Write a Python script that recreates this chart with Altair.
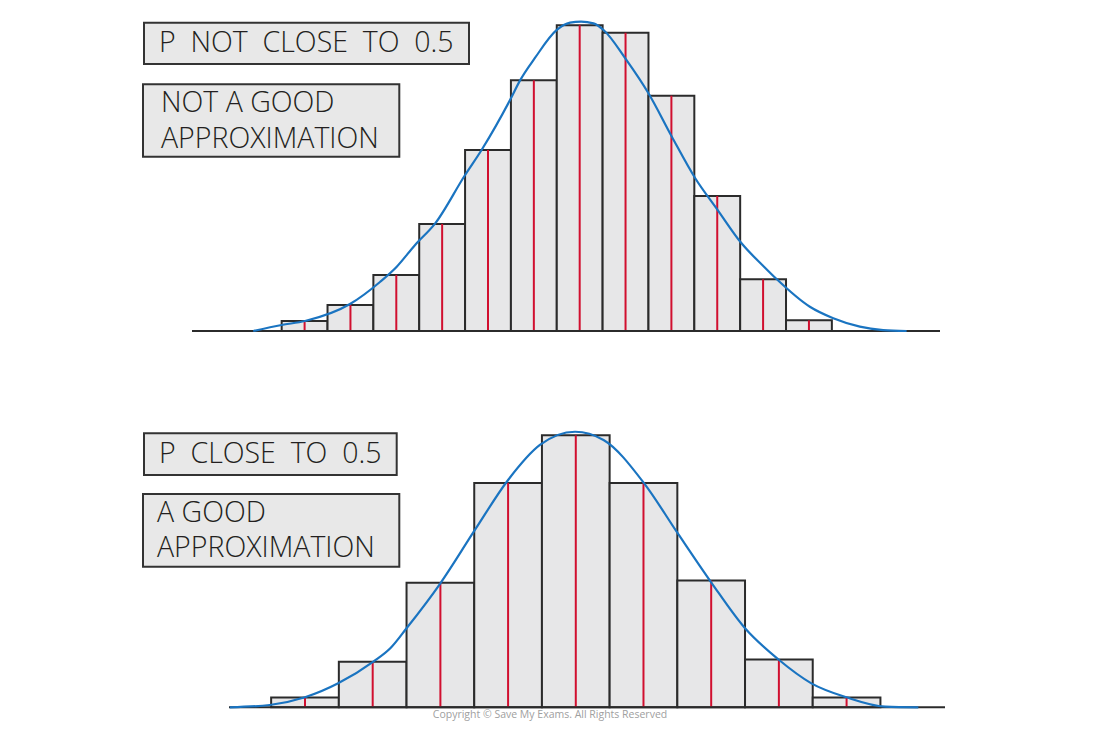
import altair as alt
import pandas as pd

# ---------------- data ----------------
# Top panel: p not close to 0.5 (12 bars)
TOP_K = list(range(12))
TOP_P = [0.0062, 0.0161, 0.0347, 0.0663, 0.1121, 0.1552,
         0.1893, 0.1847, 0.1457, 0.0836, 0.0320, 0.0066]
TOP_CURVE_K = [-1.12, -0.50, 0.01, 0.99, 1.65, 2.01, 2.41, 2.84, 3.50, 3.86,
               4.48, 4.70, 5.02, 5.50, 5.79, 6.03, 6.30, 6.52, 7.01, 7.50,
               8.01, 8.52, 9.01, 9.53, 10.02, 10.30, 11.02, 11.53, 12.11,
               12.62, 13.13]
TOP_CURVE_P = [0.0, 0.0037, 0.0062, 0.0167, 0.0305, 0.0398, 0.0533, 0.0663,
               0.0966, 0.1121, 0.1430, 0.1552, 0.1689, 0.1864, 0.1909, 0.1916,
               0.1905, 0.1864, 0.1682, 0.1472, 0.1203, 0.0946, 0.0749, 0.0543,
               0.0398, 0.0320, 0.0150, 0.0079, 0.0027, 0.0006, 0.0]

# Bottom panel: p close to 0.5 (9 bars)
BOT_K = list(range(9))
BOT_P = [0.009, 0.042, 0.115, 0.207, 0.251, 0.207, 0.117, 0.044, 0.009]
BOT_CURVE_K = [-1.11, -0.52, 0.00, 0.49, 1.01, 1.26, 1.50, 2.00, 2.51, 3.00,
               3.47, 3.99, 4.41, 5.01, 5.49, 6.01, 6.50, 6.99, 7.48, 8.00,
               8.57, 9.06]
BOT_CURVE_P = [0.0, 0.0021, 0.0092, 0.0221, 0.0421, 0.0544, 0.0729, 0.1144,
               0.1636, 0.2097, 0.2420, 0.2542, 0.2466, 0.2066, 0.1620, 0.1144,
               0.0729, 0.0443, 0.0221, 0.0092, 0.0006, 0.0]

TOP_LABELS = ["P \u00a0NOT \u00a0CLOSE \u00a0TO \u00a00.5", "NOT A GOOD", "APPROXIMATION"]
BOT_LABELS = ["P \u00a0CLOSE \u00a0TO \u00a00.5", "A GOOD", "APPROXIMATION"]
COPYRIGHT = "Copyright \u00a9 Save My Exams. All Rights Reserved"

# ---------------- styles ----------------
BAR_FILL = "#e7e7e8"
DARK = "#2b2b2b"
RED = "#d10f2f"
BLUE = "#1a74c1"
TEXT = "#231f20"
FONT = "Open Sans"
W = 945

one = alt.Data(values=[{}])


def panel(ks, ps, ck, cp, xdom, ydom, labels, boxes, texts, base_x):
    bars = pd.DataFrame({"k": ks, "p": ps})
    bars["lo"] = bars["k"] - 0.5
    bars["hi"] = bars["k"] + 0.5
    curve = pd.DataFrame({"k": ck, "p": cp})
    xs = alt.Scale(domain=xdom, nice=False, zero=False)
    ys = alt.Scale(domain=ydom, nice=False, zero=False)

    rects = alt.Chart(bars).mark_rect(
        fill=BAR_FILL, stroke=DARK, strokeWidth=2
    ).encode(
        x=alt.X("lo:Q", scale=xs, axis=None),
        x2="hi:Q",
        y=alt.Y("p:Q", scale=ys, axis=None),
        y2=alt.datum(0),
    )
    reds = alt.Chart(bars).mark_rule(color=RED, strokeWidth=2).encode(
        x=alt.X("k:Q", scale=xs, axis=None),
        y=alt.Y("p:Q", scale=ys, axis=None),
        y2=alt.datum(0),
    )
    base = alt.Chart(one).mark_rule(color=DARK, strokeWidth=2).encode(
        x=alt.value(base_x[0]), x2=alt.value(base_x[1]),
        y=alt.Y(datum=0, scale=ys, axis=None),
    )
    line = alt.Chart(curve).mark_line(
        color=BLUE, strokeWidth=2.2, interpolate="monotone"
    ).encode(
        x=alt.X("k:Q", scale=xs, axis=None),
        y=alt.Y("p:Q", scale=ys, axis=None),
    )
    layers = [rects, reds, base, line]
    for (x0, x1, y0, y1) in boxes:
        layers.append(
            alt.Chart(one).mark_rect(fill="#e8e8e8", stroke="#333333", strokeWidth=2).encode(
                x=alt.value(x0), x2=alt.value(x1), y=alt.value(y0), y2=alt.value(y1)
            )
        )
    for lab, (tx, ty) in zip(labels, texts):
        layers.append(
            alt.Chart(one).mark_text(
                text=lab, align="left", baseline="alphabetic", font=FONT,
                fontSize=28.5, fontWeight=300, color=TEXT
            ).encode(x=alt.value(tx), y=alt.value(ty))
        )
    return layers


top_layers = panel(
    TOP_K, TOP_P, TOP_CURVE_K, TOP_CURVE_P,
    xdom=[-6.469, 14.142], ydom=[-0.00619, 0.2],
    labels=TOP_LABELS,
    boxes=[(136, 461, 14.7, 56), (135, 391.3, 76.3, 148.7)],
    texts=[(151, 44.3), (153, 103.7), (153, 140)],
    base_x=(184, 932),
)
top = alt.layer(*top_layers).properties(width=W, height=333)

bot_layers = panel(
    BOT_K, BOT_P, BOT_CURVE_K, BOT_CURVE_P,
    xdom=[-4.387, 9.572], ydom=[-0.01172, 0.26504],
    labels=BOT_LABELS,
    boxes=[(136, 388.7, 13.3, 55), (135, 391.3, 74, 146.7)],
    texts=[(151, 43), (149, 101.7), (149, 137)],
    base_x=(221, 937),
)
bot_layers.append(
    alt.Chart(one).mark_text(
        text=COPYRIGHT, align="center", baseline="middle", font=FONT,
        fontSize=10.5, color="#a0a0a0"
    ).encode(x=alt.value(542), y=alt.value(295))
)
bottom = alt.layer(*bot_layers).properties(width=W, height=300)

chart = alt.vconcat(top, bottom, spacing=79).properties(
    padding=0
).configure_view(stroke=None)

chart.save("out.html", embed_options={"renderer": "svg", "actions": False})
